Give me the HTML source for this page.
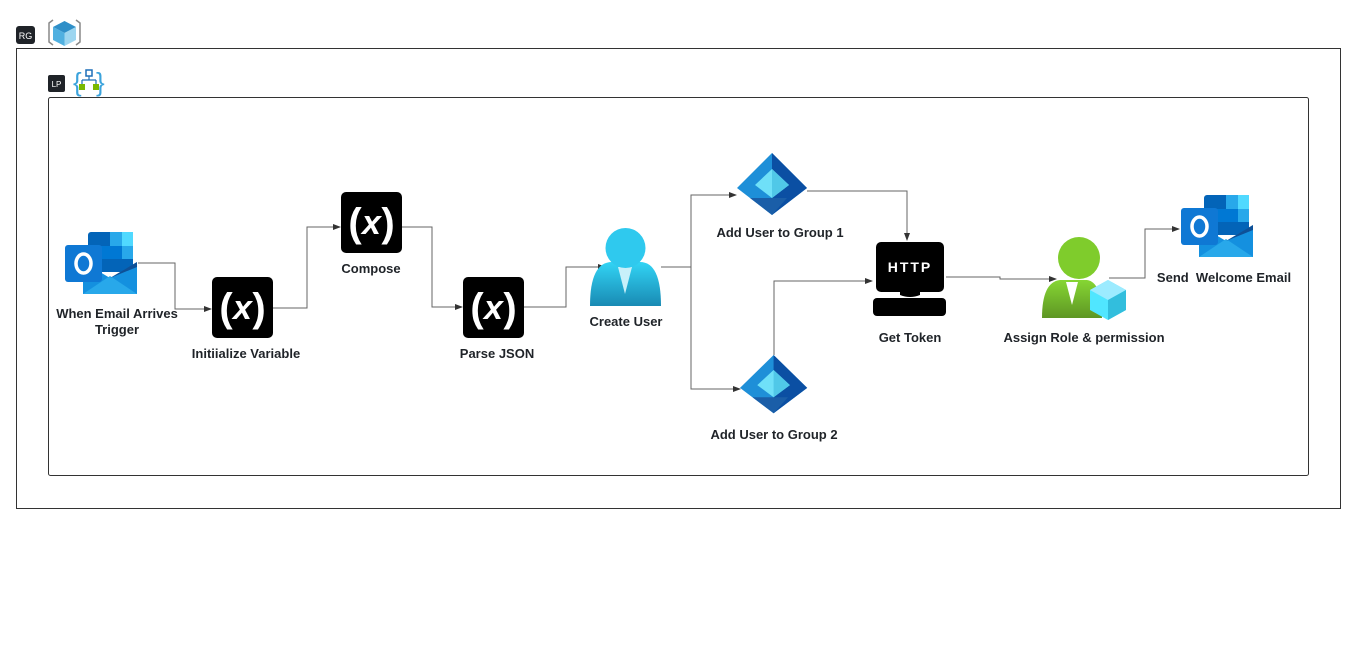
<!DOCTYPE html>
<html><head><meta charset="utf-8"><style>
html,body{margin:0;padding:0;background:#fff;width:1358px;height:671px;overflow:hidden}
svg{display:block}
text{font-family:"Liberation Sans",Arial,sans-serif;font-weight:bold;fill:#1f2328;font-size:13px}
</style></head><body>
<svg width="1358" height="671" viewBox="0 0 1358 671" xmlns="http://www.w3.org/2000/svg">
<defs>
<marker id="ar" markerWidth="8" markerHeight="6" refX="7" refY="3" orient="auto" markerUnits="userSpaceOnUse">
<path d="M0,0 L8,3 L0,6 z" fill="#333"/></marker>
<g id="outlook">
<rect x="24" y="1" width="45" height="40" rx="3" fill="#0364b8"/>
<rect x="46" y="1" width="23" height="14" fill="#28a8ea"/>
<rect x="58" y="1" width="11" height="14" fill="#50d9ff"/>
<rect x="46" y="15" width="12" height="13" fill="#0078d4"/>
<rect x="58" y="15" width="11" height="13" fill="#28a8ea"/>
<rect x="24" y="15" width="22" height="13" fill="#0078d4"/>
<path d="M19,31 L46,47 L73,31 L73,63 L19,63 z" fill="#1490df"/>
<path d="M19,63 L46,45 L73,63 z" fill="#28a8ea"/>
<path d="M46,47 L73,31 L73,36 z" fill="#0a2767" opacity=".6"/>
<rect x="1" y="14" width="37" height="37" rx="3" fill="#0f78d4"/>
<ellipse cx="19.5" cy="32.5" rx="7.5" ry="9.5" fill="none" stroke="#fff" stroke-width="3.5"/>
</g>
<g id="xbox">
<rect x="0" y="0" width="61" height="61" rx="5" fill="#000"/>
<text x="14" y="44" text-anchor="middle" style="font-size:40px;fill:#fff;font-weight:bold">(</text>
<text x="30.5" y="42" text-anchor="middle" style="font-size:34px;fill:#fff;font-style:italic;font-weight:bold">x</text>
<text x="47" y="44" text-anchor="middle" style="font-size:40px;fill:#fff;font-weight:bold">)</text>
</g>
<g id="diamond">
<path d="M35,0 L70,35 L35,62 L0,35 z" fill="#1e8fd8"/>
<path d="M35,0 L70,35 L35,62 z" fill="#0b4fa3"/>
<path d="M35,62 L13,45 L50,45 z" fill="#1a5ea8"/>
<path d="M35,16 L52,32 L35,45 L18,32 z" fill="#6fe0f8"/>
<path d="M35,16 L52,32 L35,45 z" fill="#50c8e8"/>
</g>
<linearGradient id="pb" x1="0" y1="0" x2="0" y2="1"><stop offset="0" stop-color="#32d4f5"/><stop offset="1" stop-color="#198ab3"/></linearGradient>
<linearGradient id="pg" x1="0" y1="0" x2="0" y2="1"><stop offset="0" stop-color="#86d633"/><stop offset="1" stop-color="#5e9624"/></linearGradient>
</defs>

<rect x="16" y="26" width="19" height="18" rx="3" fill="#1f2328"/>
<text x="25.5" y="39" text-anchor="middle" style="font-size:9px;fill:#fff;font-weight:normal">RG</text>
<path d="M53,20 L49,23 L49,42 L53,45" fill="none" stroke="#888" stroke-width="1.5"/>
<path d="M76,20 L80,23 L80,42 L76,45" fill="none" stroke="#888" stroke-width="1.5"/>
<path d="M64.5,21 L76,27 L64.5,33 L53,27 z" fill="#2f8fc8"/>
<path d="M53,27 L64.5,33 L64.5,46 L53,40 z" fill="#50b0e0"/>
<path d="M76,27 L64.5,33 L64.5,46 L76,40 z" fill="#9dd6f0"/>
<rect x="16.5" y="48.5" width="1324" height="460" fill="none" stroke="#333" stroke-width="1"/>

<rect x="48" y="75" width="17" height="17" rx="2" fill="#1f2328"/>
<text x="56.5" y="87" text-anchor="middle" style="font-size:8px;fill:#fff;font-weight:normal">LP</text>
<text x="73" y="91" style="font-size:26px;fill:#3ba3dc;font-weight:normal">{</text>
<text x="96" y="91" style="font-size:26px;fill:#3ba3dc;font-weight:normal">}</text>
<rect x="86" y="70" width="6" height="6" fill="none" stroke="#1d6fb8" stroke-width="1.5"/>
<path d="M89,76 V80 M82,80 H96 M82,80 V84 M96,80 V84" stroke="#1d6fb8" stroke-width="1.2" fill="none"/>
<rect x="79" y="84" width="6" height="6" fill="#7ab800"/>
<rect x="93" y="84" width="6" height="6" fill="#7ab800"/>
<rect x="48.5" y="97.5" width="1260" height="378" rx="2" fill="none" stroke="#333" stroke-width="1"/>

<g fill="none" stroke="#666" stroke-width="1">
<path d="M138,263 H175 V309 H211" marker-end="url(#ar)"/>
<path d="M273,308 H307 V227 H340" marker-end="url(#ar)"/>
<path d="M402,227 H432 V307 H462" marker-end="url(#ar)"/>
<path d="M524,307 H566 V267 H605" marker-end="url(#ar)"/>
<path d="M661,267 H691 V195 H736" marker-end="url(#ar)"/>
<path d="M691,267 V389 H740" marker-end="url(#ar)"/>
<path d="M807,191 H907 V240" marker-end="url(#ar)"/>
<path d="M774,355 V281 H872" marker-end="url(#ar)"/>
<path d="M946,277 H1000 V279 H1056" marker-end="url(#ar)"/>
<path d="M1109,278 H1145 V229 H1179" marker-end="url(#ar)"/>
</g>

<use href="#outlook" x="64" y="231"/>
<text x="117" y="318" text-anchor="middle">When Email Arrives</text>
<text x="117" y="334" text-anchor="middle">Trigger</text>

<use href="#xbox" x="212" y="277"/>
<text x="246" y="358" text-anchor="middle">Initiialize Variable</text>
<use href="#xbox" x="341" y="192"/>
<text x="371" y="273" text-anchor="middle">Compose</text>
<use href="#xbox" x="463" y="277"/>
<text x="497" y="358" text-anchor="middle">Parse JSON</text>

<path d="M590,306 Q590,262 612,262 L640,262 Q661,262 661,306 z" fill="url(#pb)"/>
<path d="M618,267 L632,267 L625,294 z" fill="#c8f0fa"/>
<circle cx="625.5" cy="248" r="20" fill="#2fc9ee"/>
<text x="626" y="326" text-anchor="middle">Create User</text>

<use href="#diamond" x="737" y="153"/>
<text x="780" y="237" text-anchor="middle">Add User to Group 1</text>
<use href="#diamond" transform="translate(740,355) scale(0.96,0.94)"/>
<text x="774" y="439" text-anchor="middle">Add User to Group 2</text>

<rect x="876" y="242" width="68" height="50" rx="5" fill="#000"/>
<path d="M900,291 H920 V295 Q910,299 900,295 z" fill="#000"/>
<rect x="873" y="298" width="73" height="18" rx="4" fill="#000"/>
<text x="910" y="272" text-anchor="middle" style="font-size:14px;fill:#fff;letter-spacing:2px">HTTP</text>
<text x="910" y="342" text-anchor="middle">Get Token</text>

<path d="M1042,318 Q1042,282 1060,280 L1087,280 Q1102,282 1102,318 z" fill="url(#pg)"/>
<path d="M1066,282 L1078,282 L1072,305 z" fill="#fff"/>
<circle cx="1079" cy="258" r="21" fill="#7fcc2c"/>
<path d="M1108,280 L1126,290 L1126,310 L1108,320 L1090,310 L1090,290 z" fill="#50e6ff"/>
<path d="M1108,280 L1126,290 L1108,300 L1090,290 z" fill="#9cebff"/>
<path d="M1108,300 L1126,290 L1126,310 L1108,320 z" fill="#32bedd"/>
<text x="1084" y="342" text-anchor="middle">Assign Role &amp; permission</text>

<use href="#outlook" x="1180" y="194"/>
<text x="1224" y="282" text-anchor="middle" xml:space="preserve">Send  Welcome Email</text>
</svg>
</body></html>
